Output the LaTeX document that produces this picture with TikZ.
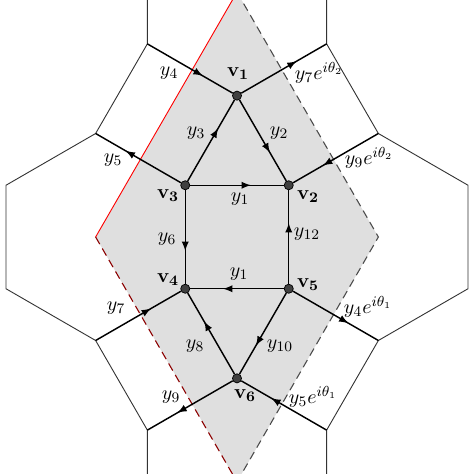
\documentclass[tikz,border=0pt]{standalone}
\usetikzlibrary{decorations.markings}
\tikzset{
  vtx/.style={circle,fill=darkgray,draw=black,inner sep=0pt,minimum size=5pt},
  link/.style={thick,postaction={decorate},
    decoration={markings,mark=at position 0.65 with {\arrow{latex}}}},
  wall/.style={black!80,line width=0.5pt},
  cut/.style={line width=0.6pt,dash pattern=on 4.5pt off 2.8pt},
}
\begin{document}
\begin{tikzpicture}[x=2cm,y=2cm,font=\fontsize{11}{13}\selectfont]
  \useasboundingbox (-2.29,-2.29) rectangle (2.29,2.29);
  \clip (-2.29,-2.29) rectangle (2.29,2.29);

  % unit cell
  \coordinate (Tp) at (0,2.366);
  \coordinate (Lp) at (-1.366,0);
  \coordinate (Rp) at (1.366,0);
  \coordinate (Bp) at (0,-2.366);
  \fill[gray!25] (Tp) -- (Lp) -- (Bp) -- (Rp) -- cycle;

  % outer corners
  \coordinate (A) at (-0.866,1.866);
  \coordinate (B) at (0.866,1.866);
  \coordinate (C) at (-1.366,1);
  \coordinate (H) at (1.366,1);
  \coordinate (D) at (-1.366,-1);
  \coordinate (G) at (1.366,-1);
  \coordinate (E) at (-0.866,-1.866);
  \coordinate (F) at (0.866,-1.866);
  \coordinate (L1) at (-2.232,0.5);
  \coordinate (L2) at (-2.232,-0.5);
  \coordinate (R1) at (2.232,0.5);
  \coordinate (R2) at (2.232,-0.5);
  \coordinate (At) at (-0.866,2.5);
  \coordinate (Bt) at (0.866,2.5);
  \coordinate (Eb) at (-0.866,-2.5);
  \coordinate (Fb) at (0.866,-2.5);

  \draw[wall] (At) -- (A) -- (C) -- (L1) -- (L2) -- (D) -- (E) -- (Eb);
  \draw[wall] (Bt) -- (B) -- (H) -- (R1) -- (R2) -- (G) -- (F) -- (Fb);

  % cell boundary
  \draw[red,line width=0.5pt] (Tp) -- (Lp);
  \draw[cut,red!55!black] (Lp) -- (Bp);
  \draw[cut,black!70] (Tp) -- (Rp) -- (Bp);

  % vertices
  \node[vtx] (v1) at (0,1.366) {};
  \node[vtx] (v2) at (0.5,0.5) {};
  \node[vtx] (v3) at (-0.5,0.5) {};
  \node[vtx] (v4) at (-0.5,-0.5) {};
  \node[vtx] (v5) at (0.5,-0.5) {};
  \node[vtx] (v6) at (0,-1.366) {};

  \draw[link] (A) -- (v1);
  \draw[link] (v1) -- (B);
  \draw[link] (v3) -- (v1);
  \draw[link] (v1) -- (v2);
  \draw[link] (v3) -- (C);
  \draw[link] (H) -- (v2);
  \draw[link] (v3) -- (v2);
  \draw[link] (v3) -- (v4);
  \draw[link] (v5) -- (v2);
  \draw[link] (v5) -- (v4);
  \draw[link] (D) -- (v4);
  \draw[link] (v5) -- (G);
  \draw[link] (v6) -- (v4);
  \draw[link] (v5) -- (v6);
  \draw[link] (v6) -- (E);
  \draw[link] (F) -- (v6);

  % names
  \node (n1) at (0.01,1.575) {$\mathbf{v_1}$};
  \node (n2) at (0.686,0.386) {$\mathbf{v_2}$};
  \node (n3) at (-0.667,0.396) {$\mathbf{v_3}$};
  \node (n4) at (-0.667,-0.415) {$\mathbf{v_4}$};
  \node (n5) at (0.686,-0.464) {$\mathbf{v_5}$};
  \node (n6) at (0.077,-1.536) {$\mathbf{v_6}$};

  % weights
  \node (w4) at (-0.657,1.585) {$y_4$};
  \node (w7t) at (0.792,1.585) {$y_7e^{i\theta_2}$};
  \node (w3) at (-0.396,1.005) {$y_3$};
  \node (w2) at (0.406,1.005) {$y_2$};
  \node (w5) at (-1.198,0.744) {$y_5$};
  \node (w9t) at (1.275,0.763) {$y_9e^{i\theta_2}$};
  \node (w1a) at (0.029,0.367) {$y_1$};
  \node (w6) at (-0.676,-0.019) {$y_6$};
  \node (w12) at (0.676,0.029) {$y_{12}$};
  \node (w1b) at (0.019,-0.357) {$y_1$};
  \node (w7) at (-1.169,-0.686) {$y_7$};
  \node (w4t) at (1.266,-0.676) {$y_4e^{i\theta_1}$};
  \node (w8) at (-0.406,-1.053) {$y_8$};
  \node (w10) at (0.415,-1.053) {$y_{10}$};
  \node (w9) at (-0.638,-1.546) {$y_9$};
  \node (w5t) at (0.734,-1.546) {$y_5e^{i\theta_1}$};
\end{tikzpicture}
\end{document}
